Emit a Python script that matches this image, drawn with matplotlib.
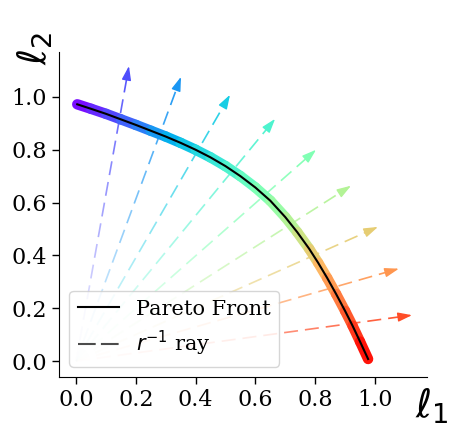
import numpy as np
import matplotlib
matplotlib.use("Agg")
import matplotlib.pyplot as plt
from matplotlib.collections import LineCollection
from matplotlib.patches import FancyArrowPatch
from matplotlib.lines import Line2D

plt.rcParams['font.family'] = ['DejaVu Serif']
plt.rcParams['mathtext.fontset'] = 'dejavusans'

# Pareto front points (l1, l2)
front_x = [0.004, 0.05, 0.10, 0.15, 0.20, 0.25, 0.30, 0.35, 0.40, 0.45, 0.50,
           0.55, 0.60, 0.65, 0.70, 0.74, 0.78, 0.81, 0.84, 0.87, 0.90,
           0.925, 0.95, 0.977]
front_y = [0.972, 0.955, 0.936, 0.915, 0.894, 0.872, 0.850, 0.826, 0.800, 0.771, 0.738,
           0.700, 0.657, 0.607, 0.545, 0.488, 0.425, 0.372, 0.315, 0.254, 0.190,
           0.134, 0.074, 0.008]

# r^{-1} ray tips
ray_x = [0.177, 0.351, 0.515, 0.666, 0.803, 0.920, 1.010, 1.080, 1.124]
ray_y = [1.117, 1.076, 1.008, 0.917, 0.800, 0.664, 0.508, 0.350, 0.174]

legend_labels = ["Pareto Front", r"$r^{-1}$ ray"]
x_ticks = [0.0, 0.2, 0.4, 0.6, 0.8, 1.0]
y_ticks = [0.0, 0.2, 0.4, 0.6, 0.8, 1.0]

fig = plt.figure(figsize=(4.74, 4.30), dpi=100)
ax = fig.add_axes([0.1245, 0.1233, 0.7763, 0.7558])
ax.set_xlim(-0.057, 1.174)
ax.set_ylim(-0.06, 1.17)

cmap = plt.get_cmap('rainbow')

# rays with fading dashes
dash_on, dash_off, head_px = 14.0, 7.0, 12.0
n_rays = len(ray_x)
for i, (ex, ey) in enumerate(zip(ray_x, ray_y)):
    c = np.array(cmap((i + 1) / (n_rays + 1)))
    p0 = ax.transData.transform((0, 0))
    p1 = ax.transData.transform((ex, ey))
    L = np.hypot(*(p1 - p0))
    segs, cols = [], []
    s = 0.0
    end = L - head_px
    while s < end:
        a, b = s, min(s + dash_on, end)
        segs.append([(ex * a / L, ey * a / L), (ex * b / L, ey * b / L)])
        cc = c.copy()
        cc[3] = min(1.0, ((a + b) / 2) / L)
        cols.append(cc)
        s += dash_on + dash_off
    ax.add_collection(LineCollection(segs, colors=cols, linewidths=1.2, zorder=2))
    f = 1 - head_px / L
    arr = FancyArrowPatch((ex * f, ey * f), (ex, ey),
                          arrowstyle='-|>,head_length=0.85,head_width=0.28',
                          mutation_scale=10, color=c, lw=1, shrinkA=0, shrinkB=0,
                          zorder=3)
    ax.add_patch(arr)

# colored Pareto front (colour by arc length)
pts = np.column_stack([front_x, front_y])
segs = np.stack([pts[:-1], pts[1:]], axis=1)
seg_len = np.hypot(*(pts[1:] - pts[:-1]).T)
cum = np.concatenate([[0], np.cumsum(seg_len)])
tmid = (cum[:-1] + cum[1:]) / 2 / cum[-1]
cols = cmap(tmid)
lc = LineCollection(segs, colors=cols, linewidths=7.5, capstyle='round',
                    joinstyle='round', zorder=4)
ax.add_collection(lc)
ax.plot(front_x, front_y, color='k', lw=1.5, zorder=5)

ax.set_xticks(x_ticks)
ax.set_yticks(y_ticks)
ax.set_xticklabels([f"{v:.1f}" for v in x_ticks])
ax.set_yticklabels([f"{v:.1f}" for v in y_ticks])
ax.tick_params(labelsize=16, length=5, width=1)
for sp in ['top', 'right']:
    ax.spines[sp].set_visible(False)

ax.set_xlabel(r'$\ell_1$', fontsize=28)
ax.xaxis.set_label_coords(1.014, -0.03)
ax.set_ylabel(r'$\ell_2$', fontsize=28)
ax.yaxis.set_label_coords(-0.01, 1.012)

handles = [Line2D([], [], color='k', lw=1.5),
           Line2D([], [], color='k', alpha=0.7, lw=1.5, dashes=(8.5, 2.5))]
ax.legend(handles, legend_labels, loc='lower left', fontsize=15)

fig.savefig('out.png', dpi=100)
